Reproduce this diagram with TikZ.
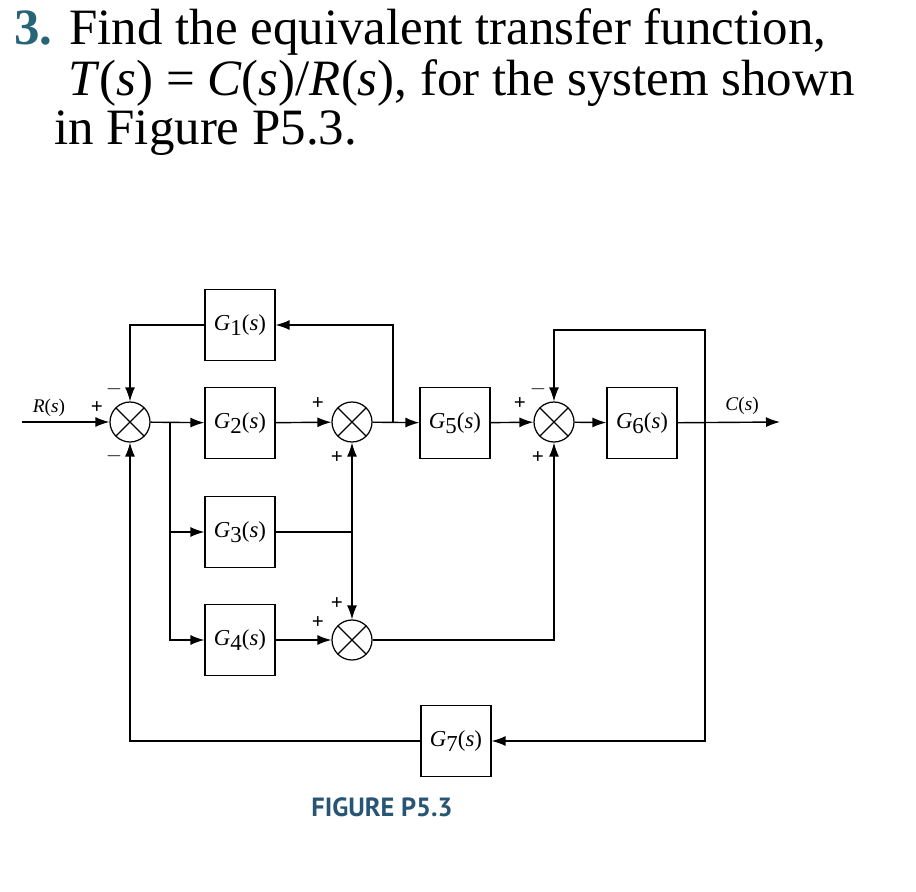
\documentclass[tikz,border=0pt]{standalone}
\usepackage{fontspec}
\setmainfont{Liberation Serif}
\newfontfamily\figfont{PT Sans}
\usetikzlibrary{arrows.meta}
\definecolor{teal3}{RGB}{40,100,120}
\definecolor{figc}{RGB}{40,85,115}
\newcommand{\Gx}[1]{\textit{G}\raisebox{-0.45ex}{#1}(\textit{s})}
\begin{document}
\begin{tikzpicture}[x=0.02cm,y=-0.02cm,
  blk/.style={draw,line width=0.7pt,minimum width=1.4cm,minimum height=1.42cm,inner sep=0pt,font=\fontsize{13}{14}\selectfont},
  sum/.style={draw,circle,line width=0.7pt,minimum size=0.8cm,inner sep=0pt,path picture={\draw (path picture bounding box.south west)--(path picture bounding box.north east) (path picture bounding box.north west)--(path picture bounding box.south east);}},
  ar/.style={-{Latex[length=2.8mm,width=2mm]},line width=0.8pt},
  ln/.style={line width=0.8pt},
  sg/.style={font=\fontsize{12}{12}\selectfont\bfseries},
  lbl/.style={font=\fontsize{11}{12}\selectfont},
  ttl/.style={anchor=base west,font=\fontsize{29}{30}\selectfont}]
\useasboundingbox (0,0) rectangle (916,892);
% title
\node[ttl] at (8,45) {\textcolor{teal3}{\textbf{3.}} Find the equivalent transfer function,};
\node[ttl] at (62,95) {\textit{T}(\textit{s}) = \textit{C}(\textit{s})/\textit{R}(\textit{s}), for the system shown};
\node[ttl] at (48,144) {in Figure P5.3.};
% blocks
\node[blk] (g1) at (240,325) {\Gx{1}};
\node[blk] (g2) at (240,423) {\Gx{2}};
\node[blk] (g3) at (240,532) {\Gx{3}};
\node[blk] (g4) at (240,640) {\Gx{4}};
\node[blk] (g5) at (455,423) {\Gx{5}};
\node[blk] (g6) at (642,423) {\Gx{6}};
\node[blk] (g7) at (456,741) {\Gx{7}};
\node[sum] (s1) at (130,422) {};
\node[sum] (s2) at (352,422) {};
\node[sum] (s3) at (352,640) {};
\node[sum] (s4) at (554,422) {};
% coordinates
\coordinate (in) at (22,422);
\coordinate (out) at (780,422);
\coordinate (b1) at (170,422);
\coordinate (b2) at (393,422);
\coordinate (b6) at (705,422);
% main path
\draw[ar] (in) -- (s1);
\draw[ar] (s1) -- (g2);
\draw[ar] (g2) -- (s2);
\draw[ar] (s2) -- (g5);
\draw[ar] (g5) -- (s4);
\draw[ar] (s4) -- (g6);
\draw[ar] (g6) -- (out);
% G1 loop
\draw[ar] (b2) |- (g1);
\draw[ar] (g1) -| (s1);
% branches to G3, G4
\draw[ar] (b1) |- (g3);
\draw[ar] (b1) |- (g4);
% G3 to sums
\draw[ln] (g3.east) -- (352,532);
\draw[ar] (352,532) -- (s2);
\draw[ar] (352,532) -- (s3);
\draw[ar] (g4) -- (s3);
\draw[ar] (s3) -| (s4);
% G6 loops
\draw[ar] (b6) |- (554,330) -- (s4);
\draw[ar] (b6) |- (g7);
\draw[ar] (g7) -| (s1);
% signs
\node[sg] at (97,408) {+};
\node[sg] at (114,389) {$-$};
\node[sg] at (114,456) {$-$};
\node[sg] at (318,404) {+};
\node[sg] at (337,458) {+};
\node[sg] at (337,604) {+};
\node[sg] at (318,623) {+};
\node[sg] at (520,404) {+};
\node[sg] at (538,389) {$-$};
\node[sg] at (538,458) {+};
% labels
\node[lbl] at (49,408) {\textit{R}(\textit{s})};
\node[lbl] at (742,406) {\textit{C}(\textit{s})};
\node[font=\figfont\fontsize{15}{16}\selectfont\bfseries,text=figc] at (382,807) {FIGURE P5.3};
\end{tikzpicture}
\end{document}
